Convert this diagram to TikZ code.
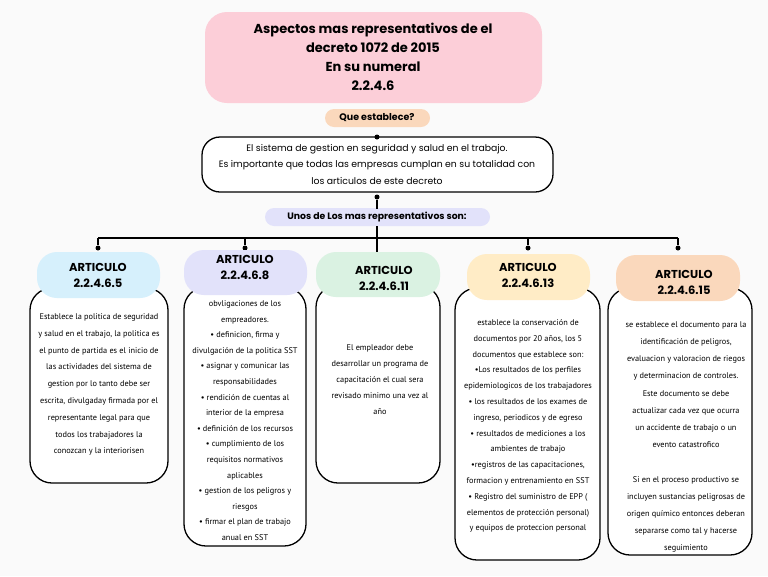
\documentclass[tikz,border=0pt]{standalone}
\usepackage{fontspec}
\setmainfont{PT Sans}
\newfontfamily\pop{Poppins}
\definecolor{bg}{RGB}{250,250,250}
\definecolor{pinkc}{RGB}{252,206,216}
\definecolor{peach}{RGB}{250,216,188}
\definecolor{lav}{RGB}{226,226,250}
\definecolor{lblue}{RGB}{214,240,252}
\definecolor{lgreen}{RGB}{218,242,226}
\definecolor{lyel}{RGB}{255,236,198}
\begin{document}
\begin{tikzpicture}[x=1pt,y=-1pt,
  pill/.style={rounded corners=#1, inner sep=0pt},
  body/.style={draw=black, line width=1.3pt, fill=white, rounded corners=22pt},
  ttl/.style={font=\pop\bfseries\fontsize{11.5}{16}\selectfont, align=center},
  txt/.style={font=\fontsize{8.3}{16.8}\selectfont, align=center},
  dot/.style={circle, fill=black, inner sep=0pt, minimum size=5pt},
  ln/.style={line width=1.1pt}]
\useasboundingbox[fill=bg] (0,0) rectangle (768,576);
% title
\fill[pinkc, rounded corners=22pt] (205,12) rectangle (542,103);
\node[font=\pop\bfseries\fontsize{13}{19}\selectfont, align=center] (title) at (373,57)
 {Aspectos mas representativos de el\\decreto 1072 de 2015\\En su numeral\\2.2.4.6};
\fill[peach, rounded corners=9pt] (325,109) rectangle (430,127);
\node[font=\pop\bfseries\fontsize{9.5}{11}\selectfont] (que) at (377,118) {Que establece?};
% system box
\draw[body, rounded corners=18pt] (202,137) rectangle (553,192);
\node[font=\pop\fontsize{9.3}{16.5}\selectfont, align=center] (sys) at (377,164)
 {El sistema de gestion en seguridad y salud en el trabajo.\\Es importante que todas las empresas cumplan en su totalidad con\\los articulos de este decreto};
\node[dot] (d0) at (377,137) {};
\node[dot] (d1) at (377,197) {};
\fill[lav, rounded corners=9pt] (265,208) rectangle (490,226);
\node[font=\pop\bfseries\fontsize{9.3}{11}\selectfont] (unos) at (377,217) {Unos de Los mas representativos son:};
\draw[ln] (d1) -- (unos.north);
\coordinate (h0) at (377,238);
\coordinate (hl) at (98,238);
\coordinate (hr) at (678,238);
\draw[ln] (377,226) -- (h0);
\draw[ln] (hl) -- (hr);
\node[dot] (a1) at (98,248) {};
\node[dot] (a2) at (245,248) {};
\node[dot] (a4) at (528,248) {};
\node[dot] (a5) at (678,248) {};
\draw[ln] (hl) -- (a1); \draw[ln] (245,238) -- (a2);
\draw[ln] (528,238) -- (a4); \draw[ln] (hr) -- (a5);
\draw[ln] (h0) -- (377,253);
% bodies
\draw[body] (30,288) rectangle (168,483);
\draw[body] (184,287) rectangle (306,546);
\draw[body] (316,285) rectangle (440,483);
\draw[body] (455,288) rectangle (600,560);
\draw[body] (608,288) rectangle (752,555);
% header pills
\fill[lblue, rounded corners=20pt] (37,252) rectangle (160,298);
\fill[lav, rounded corners=20pt] (184,250) rectangle (307,295);
\fill[lgreen, rounded corners=20pt] (316,252) rectangle (440,297);
\fill[lyel, rounded corners=20pt] (467,254) rectangle (590,300);
\fill[peach, rounded corners=20pt] (616,255) rectangle (740,301);
\node[ttl] (t1) at (98,275) {ARTICULO\\2.2.4.6.5};
\node[ttl] (t2) at (245,267) {ARTICULO\\2.2.4.6.8};
\node[ttl] (t3) at (384,278) {ARTICULO\\2.2.4.6.11};
\node[ttl] (t4) at (528,275) {ARTICULO\\2.2.4.6.13};
\node[ttl] (t5) at (684,282) {ARTICULO\\2.2.4.6.15};
% texts
\node[txt, anchor=north] (b1) at (99,310) {Establece la politica de seguridad\\y salud en el trabajo, la politica es\\el punto de partida es el inicio de\\las actividades del sistema de\\gestion por lo tanto debe ser\\escrita, divulgaday firmada por el\\representante legal para que\\todos los trabajadores la\\conozcan y la interiorisen};
\node[txt, anchor=north, font=\fontsize{8.3}{15.6}\selectfont] (b2) at (245,297) {obvligaciones de los\\empreadores.\\• definicion, firma y\\divulgación de la politica SST\\• asignar y comunicar las\\responsabilidades\\• rendición de cuentas al\\interior de la empresa\\• definición de los recursos\\• cumplimiento de los\\requisitos normativos\\aplicables\\• gestion de los peligros y\\riesgos\\• firmar el plan de trabajo\\anual en  SST};
\node[txt, anchor=north, font=\fontsize{8.3}{16}\selectfont] (b3) at (380,341) {El empleador debe\\desarrollar un programa de\\capacitación el cual sera\\revisado minimo una vez al\\año};
\node[txt, anchor=north, font=\fontsize{8.3}{15.8}\selectfont] (b4) at (528,316) {establece la conservación de\\documentos por 20 años, los 5\\documentos que establece son:\\•Los resultados de los perfiles\\epidemiologicos de los trabajadores\\• los resultados de los exames de\\ingreso, periodicos  y de egreso\\• resultados de mediciones a los\\ambientes de trabajo\\•registros de las capacitaciones,\\formacion y entrenamiento en SST\\• Registro del suministro de EPP (\\elementos de protección personal)\\y equipos de proteccion personal};
\node[txt, anchor=north, font=\fontsize{8.3}{17.2}\selectfont] (b5) at (686,318) {se establece el documento para la\\identificación de peligros,\\evaluacion y valoracion de riegos\\y determinacion de controles.\\Este documento se debe\\actualizar cada vez que ocurra\\un accidente de trabajo o un\\evento catastrofico\\[17.2pt]Si en el proceso productivo se\\incluyen sustancias peligrosas de\\origen químico entonces deberan\\separarse como tal y hacerse\\seguimiento};
\end{tikzpicture}
\end{document}
